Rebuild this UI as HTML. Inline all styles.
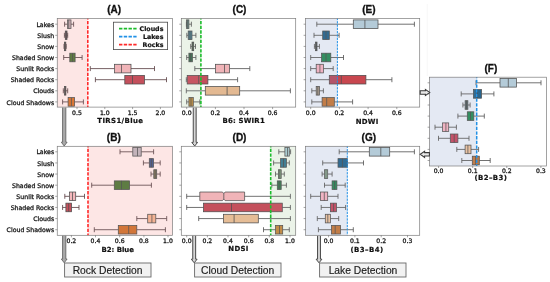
<!DOCTYPE html>
<html lang="en"><head><meta charset="utf-8"><title>Spectral thresholds boxplots</title>
<style>html,body{margin:0;padding:0;background:#fff}svg{display:block;filter:blur(0.35px)}</style></head>
<body>
<svg width="550" height="282" viewBox="0 0 550 282">
<rect width="550" height="282" fill="#fff"/>
<path d="M427.3 4V76" stroke="#f5f5f5" stroke-width="0.8" fill="none"/>
<path d="M62.55 107.4V142.2H61.3L64.2 146L67.1 142.2H65.85V107.4" fill="#a9a9a9" stroke="#5a5a5a" stroke-width="0.8" stroke-linejoin="miter"/>
<path d="M193.25 107.4V142.4H191.8L194.7 146L197.6 142.4H196.15V107.4" fill="#d6d6d6" stroke="#484848" stroke-width="1.0" stroke-linejoin="miter"/>
<path d="M62.55 235.6V259H61.3L64.2 262.8L67.1 259H65.85V235.6" fill="#a9a9a9" stroke="#5a5a5a" stroke-width="0.8" stroke-linejoin="miter"/>
<path d="M192.75 235.6V259.2H191.3L194.2 262.8L197.1 259.2H195.65V235.6" fill="#d6d6d6" stroke="#484848" stroke-width="1.0" stroke-linejoin="miter"/>
<path d="M317.55 235.6V259.2H316.1L319 262.8L321.9 259.2H320.45V235.6" fill="#d6d6d6" stroke="#484848" stroke-width="1.0" stroke-linejoin="miter"/>
<g id="panel-A">
<rect x="57.25" y="18.45" width="115.25" height="88.65" fill="#fff"/>
<rect x="57.25" y="18.45" width="30.55" height="88.65" fill="#fde6e5"/>
<path d="M64.6 24.2H67.5M71 24.2H73.6M64.6 21.71V26.69M73.6 21.71V26.69" stroke="#5e4448" stroke-width="0.85" fill="none"/>
<rect x="67.5" y="19.9" width="3.5" height="8.6" fill="#c9aab2" stroke="#4d4d4d" stroke-width="0.75"/>
<path d="M68.7 19.9V28.5" stroke="#4d4d4d" stroke-width="0.75"/>
<path d="M64.4 35.3H65.3M67 35.3H67.7M64.4 32.81V37.79M67.7 32.81V37.79" stroke="#5e4448" stroke-width="0.85" fill="none"/>
<rect x="65.3" y="31" width="1.7" height="8.6" fill="#6e4450" stroke="#4d4d4d" stroke-width="0.75"/>
<path d="M66.1 31V39.6" stroke="#4d4d4d" stroke-width="0.75"/>
<path d="M64 46.4H64.4M65.8 46.4H66.2M64 43.91V48.89M66.2 43.91V48.89" stroke="#5e4448" stroke-width="0.85" fill="none"/>
<rect x="64.4" y="42.1" width="1.4" height="8.6" fill="#7a4a4a" stroke="#4d4d4d" stroke-width="0.75"/>
<path d="M65 42.1V50.7" stroke="#4d4d4d" stroke-width="0.75"/>
<path d="M63.7 57.5H69.8M75.1 57.5H82.1M63.7 55.01V59.99M82.1 55.01V59.99" stroke="#5e4448" stroke-width="0.85" fill="none"/>
<rect x="69.8" y="53.2" width="5.3" height="8.6" fill="#58763a" stroke="#4d4d4d" stroke-width="0.75"/>
<path d="M72.5 53.2V61.8" stroke="#4d4d4d" stroke-width="0.75"/>
<path d="M90.3 68.6H114.6M131 68.6H154.5M90.3 66.11V71.09M154.5 66.11V71.09" stroke="#5e4448" stroke-width="0.85" fill="none"/>
<rect x="114.6" y="64.3" width="16.4" height="8.6" fill="#f0b4b8" stroke="#4d4d4d" stroke-width="0.75"/>
<path d="M121.5 64.3V72.9" stroke="#4d4d4d" stroke-width="0.75"/>
<path d="M95.4 79.7H124.8M144.5 79.7H166.5M95.4 77.21V82.19M166.5 77.21V82.19" stroke="#5e4448" stroke-width="0.85" fill="none"/>
<rect x="124.8" y="75.4" width="19.7" height="8.6" fill="#c4505c" stroke="#4d4d4d" stroke-width="0.75"/>
<path d="M132.5 75.4V84" stroke="#4d4d4d" stroke-width="0.75"/>
<path d="M63.3 90.8H64.6M65.9 90.8H67.7M63.3 88.31V93.29M67.7 88.31V93.29" stroke="#5e4448" stroke-width="0.85" fill="none"/>
<rect x="64.6" y="86.5" width="1.3" height="8.6" fill="#6e3e3e" stroke="#4d4d4d" stroke-width="0.75"/>
<path d="M65.2 86.5V95.1" stroke="#4d4d4d" stroke-width="0.75"/>
<path d="M62.6 101.9H68.1M74.6 101.9H83.4M62.6 99.41V104.39M83.4 99.41V104.39" stroke="#5e4448" stroke-width="0.85" fill="none"/>
<rect x="68.1" y="97.6" width="6.5" height="8.6" fill="#d8702c" stroke="#4d4d4d" stroke-width="0.75"/>
<path d="M71.4 97.6V106.2" stroke="#4d4d4d" stroke-width="0.75"/>
<rect x="57.25" y="18.45" width="30.55" height="88.65" fill="#fde6e5" opacity="0.05"/>
<path d="M87.8 18.45V107.1" stroke="#ff2a2a" stroke-width="1.6" stroke-dasharray="3.3 1.4" stroke-dashoffset="2.2" fill="none"/>
<rect x="57.25" y="18.45" width="115.25" height="88.65" fill="none" stroke="#7c7c7c" stroke-width="0.7"/>
<path d="M55.25 24.2H57.25M55.25 35.3H57.25M55.25 46.4H57.25M55.25 57.5H57.25M55.25 68.6H57.25M55.25 79.7H57.25M55.25 90.8H57.25M55.25 101.9H57.25M77 107.1V109.1M104.8 107.1V109.1M132.6 107.1V109.1M160.4 107.1V109.1" stroke="#666" stroke-width="0.6" fill="none"/>
<text x="77" y="114.7" font-size="6.15" text-anchor="middle" fill="#1c1c1c" stroke="#1c1c1c" stroke-width="0.3" font-family='"DejaVu Sans", "Liberation Sans", sans-serif'>0.5</text>
<text x="104.8" y="114.7" font-size="6.15" text-anchor="middle" fill="#1c1c1c" stroke="#1c1c1c" stroke-width="0.3" font-family='"DejaVu Sans", "Liberation Sans", sans-serif'>1.0</text>
<text x="132.6" y="114.7" font-size="6.15" text-anchor="middle" fill="#1c1c1c" stroke="#1c1c1c" stroke-width="0.3" font-family='"DejaVu Sans", "Liberation Sans", sans-serif'>1.5</text>
<text x="160.4" y="114.7" font-size="6.15" text-anchor="middle" fill="#1c1c1c" stroke="#1c1c1c" stroke-width="0.3" font-family='"DejaVu Sans", "Liberation Sans", sans-serif'>2.0</text>
<text x="54.15" y="26.85" font-size="6.22" text-anchor="end" fill="#1c1c1c" stroke="#1c1c1c" stroke-width="0.3" font-family='"DejaVu Sans", "Liberation Sans", sans-serif'>Lakes</text>
<text x="54.15" y="37.95" font-size="6.22" text-anchor="end" fill="#1c1c1c" stroke="#1c1c1c" stroke-width="0.3" font-family='"DejaVu Sans", "Liberation Sans", sans-serif'>Slush</text>
<text x="54.15" y="49.05" font-size="6.22" text-anchor="end" fill="#1c1c1c" stroke="#1c1c1c" stroke-width="0.3" font-family='"DejaVu Sans", "Liberation Sans", sans-serif'>Snow</text>
<text x="54.15" y="60.15" font-size="6.22" text-anchor="end" fill="#1c1c1c" stroke="#1c1c1c" stroke-width="0.3" font-family='"DejaVu Sans", "Liberation Sans", sans-serif'>Shaded Snow</text>
<text x="54.15" y="71.25" font-size="6.22" text-anchor="end" fill="#1c1c1c" stroke="#1c1c1c" stroke-width="0.3" font-family='"DejaVu Sans", "Liberation Sans", sans-serif'>Sunlit Rocks</text>
<text x="54.15" y="82.35" font-size="6.22" text-anchor="end" fill="#1c1c1c" stroke="#1c1c1c" stroke-width="0.3" font-family='"DejaVu Sans", "Liberation Sans", sans-serif'>Shaded Rocks</text>
<text x="54.15" y="93.45" font-size="6.22" text-anchor="end" fill="#1c1c1c" stroke="#1c1c1c" stroke-width="0.3" font-family='"DejaVu Sans", "Liberation Sans", sans-serif'>Clouds</text>
<text x="54.15" y="104.55" font-size="6.22" text-anchor="end" fill="#1c1c1c" stroke="#1c1c1c" stroke-width="0.3" font-family='"DejaVu Sans", "Liberation Sans", sans-serif'>Cloud Shadows</text>
<text x="120.3" y="122.95" font-size="6.95" letter-spacing="0.36" font-weight="bold" text-anchor="middle" fill="#111" stroke="#111" stroke-width="0.2" font-family='"DejaVu Sans", "Liberation Sans", sans-serif'>TIRS1/Blue</text>
<text x="114.2" y="12.75" font-size="10.0" font-weight="bold" text-anchor="middle" fill="#111" stroke="#111" stroke-width="0.3" font-family='"Liberation Sans", "DejaVu Sans", sans-serif'>(A)</text>
</g>
<g id="panel-B">
<rect x="57.25" y="146.3" width="115.25" height="89" fill="#fff"/>
<rect x="88" y="146.3" width="84.5" height="89" fill="#fde6e5"/>
<path d="M120 151.8H132.8M141.2 151.8H153.6M120 149.31V154.29M153.6 149.31V154.29" stroke="#5e4448" stroke-width="0.85" fill="none"/>
<rect x="132.8" y="147.5" width="8.4" height="8.6" fill="#c0b0b8" stroke="#4d4d4d" stroke-width="0.75"/>
<path d="M137.5 147.5V156.1" stroke="#4d4d4d" stroke-width="0.75"/>
<path d="M143.4 162.93H149.3M153.6 162.93H160.2M143.4 160.44V165.42M160.2 160.44V165.42" stroke="#5e4448" stroke-width="0.85" fill="none"/>
<rect x="149.3" y="158.63" width="4.3" height="8.6" fill="#4a5a8c" stroke="#4d4d4d" stroke-width="0.75"/>
<path d="M151.4 158.63V167.23" stroke="#4d4d4d" stroke-width="0.75"/>
<path d="M151 174.06H153.8M156.7 174.06H160.2M151 171.57V176.55M160.2 171.57V176.55" stroke="#5e4448" stroke-width="0.85" fill="none"/>
<rect x="153.8" y="169.76" width="2.9" height="8.6" fill="#8c7a5a" stroke="#4d4d4d" stroke-width="0.75"/>
<path d="M155.2 169.76V178.36" stroke="#4d4d4d" stroke-width="0.75"/>
<path d="M91.7 185.19H114.3M129.6 185.19H151.4M91.7 182.7V187.68M151.4 182.7V187.68" stroke="#5e4448" stroke-width="0.85" fill="none"/>
<rect x="114.3" y="180.89" width="15.3" height="8.6" fill="#56763a" stroke="#4d4d4d" stroke-width="0.75"/>
<path d="M121.5 180.89V189.49" stroke="#4d4d4d" stroke-width="0.75"/>
<path d="M64.8 196.32H69.4M75.7 196.32H84.5M64.8 193.83V198.81M84.5 193.83V198.81" stroke="#5e4448" stroke-width="0.85" fill="none"/>
<rect x="69.4" y="192.02" width="6.3" height="8.6" fill="#f4b8bc" stroke="#4d4d4d" stroke-width="0.75"/>
<path d="M72.5 192.02V200.62" stroke="#4d4d4d" stroke-width="0.75"/>
<path d="M62.6 207.45H65.9M71.6 207.45H79M62.6 204.96V209.94M79 204.96V209.94" stroke="#5e4448" stroke-width="0.85" fill="none"/>
<rect x="65.9" y="203.15" width="5.7" height="8.6" fill="#c4505c" stroke="#4d4d4d" stroke-width="0.75"/>
<path d="M68.7 203.15V211.75" stroke="#4d4d4d" stroke-width="0.75"/>
<path d="M136.8 218.58H147.7M155.8 218.58H166.7M136.8 216.09V221.07M166.7 216.09V221.07" stroke="#5e4448" stroke-width="0.85" fill="none"/>
<rect x="147.7" y="214.28" width="8.1" height="8.6" fill="#f4b090" stroke="#4d4d4d" stroke-width="0.75"/>
<path d="M151.9 214.28V222.88" stroke="#4d4d4d" stroke-width="0.75"/>
<path d="M94.3 229.71H118.3M136.8 229.71H165.4M94.3 227.22V232.2M165.4 227.22V232.2" stroke="#5e4448" stroke-width="0.85" fill="none"/>
<rect x="118.3" y="225.41" width="18.5" height="8.6" fill="#d07030" stroke="#4d4d4d" stroke-width="0.75"/>
<path d="M128.7 225.41V234.01" stroke="#4d4d4d" stroke-width="0.75"/>
<rect x="88" y="146.3" width="84.5" height="89" fill="#fde6e5" opacity="0.05"/>
<path d="M88 146.3V235.3" stroke="#ff2a2a" stroke-width="1.6" stroke-dasharray="3.3 1.4" stroke-dashoffset="2.2" fill="none"/>
<rect x="57.25" y="146.3" width="115.25" height="89" fill="none" stroke="#7c7c7c" stroke-width="0.7"/>
<path d="M55.25 151.8H57.25M55.25 162.93H57.25M55.25 174.06H57.25M55.25 185.19H57.25M55.25 196.32H57.25M55.25 207.45H57.25M55.25 218.58H57.25M55.25 229.71H57.25M71.4 235.3V237.3M95.5 235.3V237.3M119.7 235.3V237.3M143.9 235.3V237.3M168 235.3V237.3" stroke="#666" stroke-width="0.6" fill="none"/>
<text x="71.4" y="242.9" font-size="6.15" text-anchor="middle" fill="#1c1c1c" stroke="#1c1c1c" stroke-width="0.3" font-family='"DejaVu Sans", "Liberation Sans", sans-serif'>0.2</text>
<text x="95.5" y="242.9" font-size="6.15" text-anchor="middle" fill="#1c1c1c" stroke="#1c1c1c" stroke-width="0.3" font-family='"DejaVu Sans", "Liberation Sans", sans-serif'>0.4</text>
<text x="119.7" y="242.9" font-size="6.15" text-anchor="middle" fill="#1c1c1c" stroke="#1c1c1c" stroke-width="0.3" font-family='"DejaVu Sans", "Liberation Sans", sans-serif'>0.6</text>
<text x="143.9" y="242.9" font-size="6.15" text-anchor="middle" fill="#1c1c1c" stroke="#1c1c1c" stroke-width="0.3" font-family='"DejaVu Sans", "Liberation Sans", sans-serif'>0.8</text>
<text x="168" y="242.9" font-size="6.15" text-anchor="middle" fill="#1c1c1c" stroke="#1c1c1c" stroke-width="0.3" font-family='"DejaVu Sans", "Liberation Sans", sans-serif'>1.0</text>
<text x="54.15" y="154.45" font-size="6.22" text-anchor="end" fill="#1c1c1c" stroke="#1c1c1c" stroke-width="0.3" font-family='"DejaVu Sans", "Liberation Sans", sans-serif'>Lakes</text>
<text x="54.15" y="165.58" font-size="6.22" text-anchor="end" fill="#1c1c1c" stroke="#1c1c1c" stroke-width="0.3" font-family='"DejaVu Sans", "Liberation Sans", sans-serif'>Slush</text>
<text x="54.15" y="176.71" font-size="6.22" text-anchor="end" fill="#1c1c1c" stroke="#1c1c1c" stroke-width="0.3" font-family='"DejaVu Sans", "Liberation Sans", sans-serif'>Snow</text>
<text x="54.15" y="187.84" font-size="6.22" text-anchor="end" fill="#1c1c1c" stroke="#1c1c1c" stroke-width="0.3" font-family='"DejaVu Sans", "Liberation Sans", sans-serif'>Shaded Snow</text>
<text x="54.15" y="198.97" font-size="6.22" text-anchor="end" fill="#1c1c1c" stroke="#1c1c1c" stroke-width="0.3" font-family='"DejaVu Sans", "Liberation Sans", sans-serif'>Sunlit Rocks</text>
<text x="54.15" y="210.1" font-size="6.22" text-anchor="end" fill="#1c1c1c" stroke="#1c1c1c" stroke-width="0.3" font-family='"DejaVu Sans", "Liberation Sans", sans-serif'>Shaded Rocks</text>
<text x="54.15" y="221.23" font-size="6.22" text-anchor="end" fill="#1c1c1c" stroke="#1c1c1c" stroke-width="0.3" font-family='"DejaVu Sans", "Liberation Sans", sans-serif'>Clouds</text>
<text x="54.15" y="232.36" font-size="6.22" text-anchor="end" fill="#1c1c1c" stroke="#1c1c1c" stroke-width="0.3" font-family='"DejaVu Sans", "Liberation Sans", sans-serif'>Cloud Shadows</text>
<text x="117.7" y="251.55" font-size="6.95" letter-spacing="0" font-weight="bold" text-anchor="middle" fill="#111" stroke="#111" stroke-width="0.2" font-family='"DejaVu Sans", "Liberation Sans", sans-serif'>B2: Blue</text>
<text x="113.8" y="140.6" font-size="10.0" font-weight="bold" text-anchor="middle" fill="#111" stroke="#111" stroke-width="0.3" font-family='"Liberation Sans", "DejaVu Sans", sans-serif'>(B)</text>
</g>
<g id="panel-C">
<rect x="181.3" y="18.45" width="114.4" height="88.65" fill="#fff"/>
<rect x="181.3" y="18.45" width="19.6" height="88.65" fill="#ebf4e8"/>
<path d="M186.4 24.2H186.6M188.9 24.2H191.4M186.4 21.71V26.69M191.4 21.71V26.69" stroke="#585858" stroke-width="0.85" fill="none"/>
<rect x="186.6" y="19.9" width="2.3" height="8.6" fill="#6a9a90" stroke="#4d4d4d" stroke-width="0.75"/>
<path d="M187.7 19.9V28.5" stroke="#4d4d4d" stroke-width="0.75"/>
<path d="M186.8 35.3H188.2M192 35.3H195.9M186.8 32.81V37.79M195.9 32.81V37.79" stroke="#585858" stroke-width="0.85" fill="none"/>
<rect x="188.2" y="31" width="3.8" height="8.6" fill="#4a8090" stroke="#4d4d4d" stroke-width="0.75"/>
<path d="M190 31V39.6" stroke="#4d4d4d" stroke-width="0.75"/>
<path d="M190.7 46.4H192M193.7 46.4H195.5M190.7 43.91V48.89M195.5 43.91V48.89" stroke="#585858" stroke-width="0.85" fill="none"/>
<rect x="192" y="42.1" width="1.7" height="8.6" fill="#5a7a5a" stroke="#4d4d4d" stroke-width="0.75"/>
<path d="M192.8 42.1V50.7" stroke="#4d4d4d" stroke-width="0.75"/>
<path d="M186.7 57.5H188.9M192.4 57.5H195.9M186.7 55.01V59.99M195.9 55.01V59.99" stroke="#585858" stroke-width="0.85" fill="none"/>
<rect x="188.9" y="53.2" width="3.5" height="8.6" fill="#3a6e4e" stroke="#4d4d4d" stroke-width="0.75"/>
<path d="M190.6 53.2V61.8" stroke="#4d4d4d" stroke-width="0.75"/>
<path d="M194.8 68.6H215.5M229.5 68.6H249.8M194.8 66.11V71.09M249.8 66.11V71.09" stroke="#585858" stroke-width="0.85" fill="none"/>
<rect x="215.5" y="64.3" width="14" height="8.6" fill="#f0b4b8" stroke="#4d4d4d" stroke-width="0.75"/>
<path d="M224.5 64.3V72.9" stroke="#4d4d4d" stroke-width="0.75"/>
<path d="M186.3 79.7H187.2M207.9 79.7H237.6M186.3 77.21V82.19M237.6 77.21V82.19" stroke="#585858" stroke-width="0.85" fill="none"/>
<rect x="187.2" y="75.4" width="20.7" height="8.6" fill="#c4505c" stroke="#4d4d4d" stroke-width="0.75"/>
<path d="M198.7 75.4V84" stroke="#4d4d4d" stroke-width="0.75"/>
<path d="M186.3 90.8H205.3M239.7 90.8H290.4M186.3 88.31V93.29M290.4 88.31V93.29" stroke="#585858" stroke-width="0.85" fill="none"/>
<rect x="205.3" y="86.5" width="34.4" height="8.6" fill="#e3b992" stroke="#4d4d4d" stroke-width="0.75"/>
<path d="M227.1 86.5V95.1" stroke="#4d4d4d" stroke-width="0.75"/>
<path d="M186.7 101.9H188.9M193.3 101.9H199.8M186.7 99.41V104.39M199.8 99.41V104.39" stroke="#585858" stroke-width="0.85" fill="none"/>
<rect x="188.9" y="97.6" width="4.4" height="8.6" fill="#b88a40" stroke="#4d4d4d" stroke-width="0.75"/>
<path d="M191 97.6V106.2" stroke="#4d4d4d" stroke-width="0.75"/>
<rect x="181.3" y="18.45" width="19.6" height="88.65" fill="#ebf4e8" opacity="0.05"/>
<path d="M200.9 18.45V107.1" stroke="#1cbc2c" stroke-width="1.6" stroke-dasharray="3.3 1.4" stroke-dashoffset="2.2" fill="none"/>
<rect x="181.3" y="18.45" width="114.4" height="88.65" fill="none" stroke="#7c7c7c" stroke-width="0.7"/>
<path d="M179.3 24.2H181.3M179.3 35.3H181.3M179.3 46.4H181.3M179.3 57.5H181.3M179.3 68.6H181.3M179.3 79.7H181.3M179.3 90.8H181.3M179.3 101.9H181.3M186.7 107.1V109.1M215.4 107.1V109.1M244 107.1V109.1M272.6 107.1V109.1" stroke="#666" stroke-width="0.6" fill="none"/>
<text x="186.7" y="114.7" font-size="6.15" text-anchor="middle" fill="#1c1c1c" stroke="#1c1c1c" stroke-width="0.3" font-family='"DejaVu Sans", "Liberation Sans", sans-serif'>0.0</text>
<text x="215.4" y="114.7" font-size="6.15" text-anchor="middle" fill="#1c1c1c" stroke="#1c1c1c" stroke-width="0.3" font-family='"DejaVu Sans", "Liberation Sans", sans-serif'>0.2</text>
<text x="244" y="114.7" font-size="6.15" text-anchor="middle" fill="#1c1c1c" stroke="#1c1c1c" stroke-width="0.3" font-family='"DejaVu Sans", "Liberation Sans", sans-serif'>0.4</text>
<text x="272.6" y="114.7" font-size="6.15" text-anchor="middle" fill="#1c1c1c" stroke="#1c1c1c" stroke-width="0.3" font-family='"DejaVu Sans", "Liberation Sans", sans-serif'>0.6</text>
<text x="243.7" y="122.95" font-size="6.95" letter-spacing="0.2" font-weight="bold" text-anchor="middle" fill="#111" stroke="#111" stroke-width="0.2" font-family='"DejaVu Sans", "Liberation Sans", sans-serif'>B6: SWIR1</text>
<text x="239.5" y="12.75" font-size="10.0" font-weight="bold" text-anchor="middle" fill="#111" stroke="#111" stroke-width="0.3" font-family='"Liberation Sans", "DejaVu Sans", sans-serif'>(C)</text>
</g>
<g id="panel-D">
<rect x="181.3" y="146.3" width="114.4" height="89" fill="#fff"/>
<rect x="270.7" y="146.3" width="25" height="89" fill="#ebf4e8"/>
<path d="M278.8 151.8H284.9M289.3 151.8H290.6M278.8 149.31V154.29M290.6 149.31V154.29" stroke="#585858" stroke-width="0.85" fill="none"/>
<rect x="284.9" y="147.5" width="4.4" height="8.6" fill="#a8ccd0" stroke="#4d4d4d" stroke-width="0.75"/>
<path d="M287.5 147.5V156.1" stroke="#4d4d4d" stroke-width="0.75"/>
<path d="M273.6 162.93H280.6M286.4 162.93H289.3M273.6 160.44V165.42M289.3 160.44V165.42" stroke="#585858" stroke-width="0.85" fill="none"/>
<rect x="280.6" y="158.63" width="5.8" height="8.6" fill="#3a7a90" stroke="#4d4d4d" stroke-width="0.75"/>
<path d="M283.5 158.63V167.23" stroke="#4d4d4d" stroke-width="0.75"/>
<path d="M275.5 174.06H278.4M281.2 174.06H284.3M275.5 171.57V176.55M284.3 171.57V176.55" stroke="#585858" stroke-width="0.85" fill="none"/>
<rect x="278.4" y="169.76" width="2.8" height="8.6" fill="#86a684" stroke="#4d4d4d" stroke-width="0.75"/>
<path d="M279.8 169.76V178.36" stroke="#4d4d4d" stroke-width="0.75"/>
<path d="M271.8 185.19H277.3M281.2 185.19H286.4M271.8 182.7V187.68M286.4 182.7V187.68" stroke="#585858" stroke-width="0.85" fill="none"/>
<rect x="277.3" y="180.89" width="3.9" height="8.6" fill="#3a7a50" stroke="#4d4d4d" stroke-width="0.75"/>
<path d="M279.2 180.89V189.49" stroke="#4d4d4d" stroke-width="0.75"/>
<path d="M186.7 196.32H199.8M244.6 196.32H290.4M186.7 193.83V198.81M290.4 193.83V198.81" stroke="#585858" stroke-width="0.85" fill="none"/>
<path d="M199.8 192.02H222.5L223.8 193.62L225.1 192.02H244.6V200.62H225.1L223.8 199.02L222.5 200.62H199.8Z" fill="#f0b4b8" stroke="#4d4d4d" stroke-width="0.75" stroke-linejoin="round"/>
<path d="M223.8 193.62V199.02" stroke="#4d4d4d" stroke-width="0.75"/>
<path d="M186.7 207.45H203.5M282.3 207.45H290.4M186.7 204.96V209.94M290.4 204.96V209.94" stroke="#585858" stroke-width="0.85" fill="none"/>
<rect x="203.5" y="203.15" width="78.8" height="8.6" fill="#c4505c" stroke="#4d4d4d" stroke-width="0.75"/>
<path d="M231.5 203.15V211.75" stroke="#4d4d4d" stroke-width="0.75"/>
<path d="M198.7 218.58H223.4M258.3 218.58H290.4M198.7 216.09V221.07M290.4 216.09V221.07" stroke="#585858" stroke-width="0.85" fill="none"/>
<rect x="223.4" y="214.28" width="34.9" height="8.6" fill="#e6bd96" stroke="#4d4d4d" stroke-width="0.75"/>
<path d="M234.1 214.28V222.88" stroke="#4d4d4d" stroke-width="0.75"/>
<path d="M263.5 229.71H275.5M282.7 229.71H289.3M263.5 227.22V232.2M289.3 227.22V232.2" stroke="#585858" stroke-width="0.85" fill="none"/>
<rect x="275.5" y="225.41" width="7.2" height="8.6" fill="#c08840" stroke="#4d4d4d" stroke-width="0.75"/>
<path d="M279.5 225.41V234.01" stroke="#4d4d4d" stroke-width="0.75"/>
<rect x="270.7" y="146.3" width="25" height="89" fill="#ebf4e8" opacity="0.05"/>
<path d="M270.7 146.3V235.3" stroke="#1cbc2c" stroke-width="1.6" stroke-dasharray="3.3 1.4" stroke-dashoffset="2.2" fill="none"/>
<rect x="181.3" y="146.3" width="114.4" height="89" fill="none" stroke="#7c7c7c" stroke-width="0.7"/>
<path d="M179.3 151.8H181.3M179.3 162.93H181.3M179.3 174.06H181.3M179.3 185.19H181.3M179.3 196.32H181.3M179.3 207.45H181.3M179.3 218.58H181.3M179.3 229.71H181.3M186.7 235.3V237.3M207.4 235.3V237.3M228 235.3V237.3M248.7 235.3V237.3M269.3 235.3V237.3M290 235.3V237.3" stroke="#666" stroke-width="0.6" fill="none"/>
<text x="186.7" y="242.9" font-size="6.15" text-anchor="middle" fill="#1c1c1c" stroke="#1c1c1c" stroke-width="0.3" font-family='"DejaVu Sans", "Liberation Sans", sans-serif'>0.0</text>
<text x="207.4" y="242.9" font-size="6.15" text-anchor="middle" fill="#1c1c1c" stroke="#1c1c1c" stroke-width="0.3" font-family='"DejaVu Sans", "Liberation Sans", sans-serif'>0.2</text>
<text x="228" y="242.9" font-size="6.15" text-anchor="middle" fill="#1c1c1c" stroke="#1c1c1c" stroke-width="0.3" font-family='"DejaVu Sans", "Liberation Sans", sans-serif'>0.4</text>
<text x="248.7" y="242.9" font-size="6.15" text-anchor="middle" fill="#1c1c1c" stroke="#1c1c1c" stroke-width="0.3" font-family='"DejaVu Sans", "Liberation Sans", sans-serif'>0.6</text>
<text x="269.3" y="242.9" font-size="6.15" text-anchor="middle" fill="#1c1c1c" stroke="#1c1c1c" stroke-width="0.3" font-family='"DejaVu Sans", "Liberation Sans", sans-serif'>0.8</text>
<text x="290" y="242.9" font-size="6.15" text-anchor="middle" fill="#1c1c1c" stroke="#1c1c1c" stroke-width="0.3" font-family='"DejaVu Sans", "Liberation Sans", sans-serif'>1.0</text>
<text x="238.5" y="251.15" font-size="6.95" letter-spacing="0.3" font-weight="bold" text-anchor="middle" fill="#111" stroke="#111" stroke-width="0.2" font-family='"DejaVu Sans", "Liberation Sans", sans-serif'>NDSI</text>
<text x="239.5" y="140.6" font-size="10.0" font-weight="bold" text-anchor="middle" fill="#111" stroke="#111" stroke-width="0.3" font-family='"Liberation Sans", "DejaVu Sans", sans-serif'>(D)</text>
</g>
<g id="panel-E">
<rect x="305.6" y="18.45" width="114.1" height="88.65" fill="#fff"/>
<rect x="305.6" y="18.45" width="31.8" height="88.65" fill="#e4e9f4"/>
<path d="M316.8 24.2H353.3M378 24.2H414.4M316.8 21.71V26.69M414.4 21.71V26.69" stroke="#585858" stroke-width="0.85" fill="none"/>
<rect x="353.3" y="19.9" width="24.7" height="8.6" fill="#b4cbd8" stroke="#4d4d4d" stroke-width="0.75"/>
<path d="M364.9 19.9V28.5" stroke="#4d4d4d" stroke-width="0.75"/>
<path d="M314 35.3H322.7M329.3 35.3H339.1M314 32.81V37.79M339.1 32.81V37.79" stroke="#585858" stroke-width="0.85" fill="none"/>
<rect x="322.7" y="31" width="6.6" height="8.6" fill="#27658e" stroke="#4d4d4d" stroke-width="0.75"/>
<path d="M326 31V39.6" stroke="#4d4d4d" stroke-width="0.75"/>
<path d="M314.4 46.4H315.6M317 46.4H319.4M314.4 43.91V48.89M319.4 43.91V48.89" stroke="#585858" stroke-width="0.85" fill="none"/>
<rect x="315.6" y="42.1" width="1.4" height="8.6" fill="#56666e" stroke="#4d4d4d" stroke-width="0.75"/>
<path d="M316.3 42.1V50.7" stroke="#4d4d4d" stroke-width="0.75"/>
<path d="M310.7 57.5H321.6M330.8 57.5H343.5M310.7 55.01V59.99M343.5 55.01V59.99" stroke="#585858" stroke-width="0.85" fill="none"/>
<rect x="321.6" y="53.2" width="9.2" height="8.6" fill="#2a8a5a" stroke="#4d4d4d" stroke-width="0.75"/>
<path d="M326 53.2V61.8" stroke="#4d4d4d" stroke-width="0.75"/>
<path d="M310.7 68.6H316.2M323.4 68.6H333.2M310.7 66.11V71.09M333.2 66.11V71.09" stroke="#585858" stroke-width="0.85" fill="none"/>
<rect x="316.2" y="64.3" width="7.2" height="8.6" fill="#f0b0c0" stroke="#4d4d4d" stroke-width="0.75"/>
<path d="M319.9 64.3V72.9" stroke="#4d4d4d" stroke-width="0.75"/>
<path d="M310.7 79.7H329.3M365.9 79.7H391.9M310.7 77.21V82.19M391.9 77.21V82.19" stroke="#585858" stroke-width="0.85" fill="none"/>
<rect x="329.3" y="75.4" width="36.6" height="8.6" fill="#c8474f" stroke="#4d4d4d" stroke-width="0.75"/>
<path d="M341.3 75.4V84" stroke="#4d4d4d" stroke-width="0.75"/>
<path d="M311.8 90.8H316.2M319.5 90.8H323.4M311.8 88.31V93.29M323.4 88.31V93.29" stroke="#585858" stroke-width="0.85" fill="none"/>
<rect x="316.2" y="86.5" width="3.3" height="8.6" fill="#b0a090" stroke="#4d4d4d" stroke-width="0.75"/>
<path d="M317.8 86.5V95.1" stroke="#4d4d4d" stroke-width="0.75"/>
<path d="M311.8 101.9H322.1M334.3 101.9H352.6M311.8 99.41V104.39M352.6 99.41V104.39" stroke="#585858" stroke-width="0.85" fill="none"/>
<rect x="322.1" y="97.6" width="12.2" height="8.6" fill="#c07840" stroke="#4d4d4d" stroke-width="0.75"/>
<path d="M326.7 97.6V106.2" stroke="#4d4d4d" stroke-width="0.75"/>
<rect x="329.7" y="75.7" width="7.7" height="8" fill="#5868b8" opacity="0.2"/>
<rect x="305.6" y="18.45" width="31.8" height="88.65" fill="#e4e9f4" opacity="0.05"/>
<path d="M337.4 18.45V107.1" stroke="#2191e6" stroke-width="0.99" stroke-dasharray="2.3 1.0" stroke-dashoffset="0.6" fill="none"/>
<rect x="305.6" y="18.45" width="114.1" height="88.65" fill="none" stroke="#7c7c7c" stroke-width="0.7"/>
<path d="M303.6 24.2H305.6M303.6 35.3H305.6M303.6 46.4H305.6M303.6 57.5H305.6M303.6 68.6H305.6M303.6 79.7H305.6M303.6 90.8H305.6M303.6 101.9H305.6M310.7 107.1V109.1M339.4 107.1V109.1M368.1 107.1V109.1M396.8 107.1V109.1" stroke="#666" stroke-width="0.6" fill="none"/>
<text x="310.7" y="114.7" font-size="6.15" text-anchor="middle" fill="#1c1c1c" stroke="#1c1c1c" stroke-width="0.3" font-family='"DejaVu Sans", "Liberation Sans", sans-serif'>0.0</text>
<text x="339.4" y="114.7" font-size="6.15" text-anchor="middle" fill="#1c1c1c" stroke="#1c1c1c" stroke-width="0.3" font-family='"DejaVu Sans", "Liberation Sans", sans-serif'>0.2</text>
<text x="368.1" y="114.7" font-size="6.15" text-anchor="middle" fill="#1c1c1c" stroke="#1c1c1c" stroke-width="0.3" font-family='"DejaVu Sans", "Liberation Sans", sans-serif'>0.4</text>
<text x="396.8" y="114.7" font-size="6.15" text-anchor="middle" fill="#1c1c1c" stroke="#1c1c1c" stroke-width="0.3" font-family='"DejaVu Sans", "Liberation Sans", sans-serif'>0.6</text>
<text x="367.2" y="123.65" font-size="6.95" letter-spacing="0.3" font-weight="bold" text-anchor="middle" fill="#111" stroke="#111" stroke-width="0.2" font-family='"DejaVu Sans", "Liberation Sans", sans-serif'>NDWI</text>
<text x="368.8" y="12.75" font-size="10.0" font-weight="bold" text-anchor="middle" fill="#111" stroke="#111" stroke-width="0.3" font-family='"Liberation Sans", "DejaVu Sans", sans-serif'>(E)</text>
</g>
<g id="panel-G">
<rect x="305.6" y="146.3" width="114.1" height="89" fill="#fff"/>
<rect x="305.6" y="146.3" width="41.7" height="89" fill="#e4e9f4"/>
<path d="M339.2 151.8H369.3M389.7 151.8H414.4M339.2 149.31V154.29M414.4 149.31V154.29" stroke="#585858" stroke-width="0.85" fill="none"/>
<rect x="369.3" y="147.5" width="20.4" height="8.6" fill="#b4cbd8" stroke="#4d4d4d" stroke-width="0.75"/>
<path d="M380.8 147.5V156.1" stroke="#4d4d4d" stroke-width="0.75"/>
<path d="M322.7 162.93H338M347.4 162.93H363.5M322.7 160.44V165.42M363.5 160.44V165.42" stroke="#585858" stroke-width="0.85" fill="none"/>
<rect x="338" y="158.63" width="9.4" height="8.6" fill="#27658e" stroke="#4d4d4d" stroke-width="0.75"/>
<path d="M342.4 158.63V167.23" stroke="#4d4d4d" stroke-width="0.75"/>
<path d="M322.1 174.06H324.5M327.7 174.06H332.1M322.1 171.57V176.55M332.1 171.57V176.55" stroke="#585858" stroke-width="0.85" fill="none"/>
<rect x="324.5" y="169.76" width="3.2" height="8.6" fill="#9cbfa6" stroke="#4d4d4d" stroke-width="0.75"/>
<path d="M326 169.76V178.36" stroke="#4d4d4d" stroke-width="0.75"/>
<path d="M324.5 185.19H332.1M336.9 185.19H345.2M324.5 182.7V187.68M345.2 182.7V187.68" stroke="#585858" stroke-width="0.85" fill="none"/>
<rect x="332.1" y="180.89" width="4.8" height="8.6" fill="#2a8a5a" stroke="#4d4d4d" stroke-width="0.75"/>
<path d="M334.6 180.89V189.49" stroke="#4d4d4d" stroke-width="0.75"/>
<path d="M310.7 196.32H320.5M327.7 196.32H338M310.7 193.83V198.81M338 193.83V198.81" stroke="#585858" stroke-width="0.85" fill="none"/>
<rect x="320.5" y="192.02" width="7.2" height="8.6" fill="#f0b0c0" stroke="#4d4d4d" stroke-width="0.75"/>
<path d="M324.3 192.02V200.62" stroke="#4d4d4d" stroke-width="0.75"/>
<path d="M321.2 207.45H330.4M336.5 207.45H345.6M321.2 204.96V209.94M345.6 204.96V209.94" stroke="#585858" stroke-width="0.85" fill="none"/>
<rect x="330.4" y="203.15" width="6.1" height="8.6" fill="#c24a62" stroke="#4d4d4d" stroke-width="0.75"/>
<path d="M333.6 203.15V211.75" stroke="#4d4d4d" stroke-width="0.75"/>
<path d="M317.3 218.58H325.3M330.4 218.58H338.7M317.3 216.09V221.07M338.7 216.09V221.07" stroke="#585858" stroke-width="0.85" fill="none"/>
<rect x="325.3" y="214.28" width="5.1" height="8.6" fill="#e8c0a0" stroke="#4d4d4d" stroke-width="0.75"/>
<path d="M327.8 214.28V222.88" stroke="#4d4d4d" stroke-width="0.75"/>
<path d="M318.4 229.71H331.5M340.6 229.71H353.3M318.4 227.22V232.2M353.3 227.22V232.2" stroke="#585858" stroke-width="0.85" fill="none"/>
<rect x="331.5" y="225.41" width="9.1" height="8.6" fill="#c07840" stroke="#4d4d4d" stroke-width="0.75"/>
<path d="M335.2 225.41V234.01" stroke="#4d4d4d" stroke-width="0.75"/>
<rect x="305.6" y="146.3" width="41.7" height="89" fill="#e4e9f4" opacity="0.05"/>
<path d="M347.3 146.3V235.3" stroke="#2191e6" stroke-width="0.99" stroke-dasharray="2.3 1.0" stroke-dashoffset="0.6" fill="none"/>
<rect x="305.6" y="146.3" width="114.1" height="89" fill="none" stroke="#7c7c7c" stroke-width="0.7"/>
<path d="M303.6 151.8H305.6M303.6 162.93H305.6M303.6 174.06H305.6M303.6 185.19H305.6M303.6 196.32H305.6M303.6 207.45H305.6M303.6 218.58H305.6M303.6 229.71H305.6M328.6 235.3V237.3M354.9 235.3V237.3M381.2 235.3V237.3M407.5 235.3V237.3" stroke="#666" stroke-width="0.6" fill="none"/>
<text x="328.6" y="242.9" font-size="6.15" text-anchor="middle" fill="#1c1c1c" stroke="#1c1c1c" stroke-width="0.3" font-family='"DejaVu Sans", "Liberation Sans", sans-serif'>0.0</text>
<text x="354.9" y="242.9" font-size="6.15" text-anchor="middle" fill="#1c1c1c" stroke="#1c1c1c" stroke-width="0.3" font-family='"DejaVu Sans", "Liberation Sans", sans-serif'>0.1</text>
<text x="381.2" y="242.9" font-size="6.15" text-anchor="middle" fill="#1c1c1c" stroke="#1c1c1c" stroke-width="0.3" font-family='"DejaVu Sans", "Liberation Sans", sans-serif'>0.2</text>
<text x="407.5" y="242.9" font-size="6.15" text-anchor="middle" fill="#1c1c1c" stroke="#1c1c1c" stroke-width="0.3" font-family='"DejaVu Sans", "Liberation Sans", sans-serif'>0.3</text>
<text x="367" y="251.5" font-size="6.95" letter-spacing="0.42" font-weight="bold" text-anchor="middle" fill="#111" stroke="#111" stroke-width="0.2" font-family='"DejaVu Sans", "Liberation Sans", sans-serif'>(B3–B4)</text>
<text x="368.8" y="140.6" font-size="10.0" font-weight="bold" text-anchor="middle" fill="#111" stroke="#111" stroke-width="0.3" font-family='"Liberation Sans", "DejaVu Sans", sans-serif'>(G)</text>
</g>
<g id="panel-F">
<rect x="429.6" y="77.2" width="117" height="88.8" fill="#fff"/>
<rect x="429.6" y="77.2" width="47.1" height="88.8" fill="#e4e9f4"/>
<path d="M476 82.8H500M516.4 82.8H541M476 80.31V85.29M541 80.31V85.29" stroke="#585858" stroke-width="0.85" fill="none"/>
<rect x="500" y="78.5" width="16.4" height="8.6" fill="#b4cbd8" stroke="#4d4d4d" stroke-width="0.75"/>
<path d="M508.3 78.5V87.1" stroke="#4d4d4d" stroke-width="0.75"/>
<path d="M461.2 93.9H473.4M481.5 93.9H493.9M461.2 91.41V96.39M493.9 91.41V96.39" stroke="#585858" stroke-width="0.85" fill="none"/>
<rect x="473.4" y="89.6" width="8.1" height="8.6" fill="#27658e" stroke="#4d4d4d" stroke-width="0.75"/>
<path d="M477.5 89.6V98.2" stroke="#4d4d4d" stroke-width="0.75"/>
<path d="M462.9 105H465.1M467.9 105H470.1M462.9 102.51V107.49M470.1 102.51V107.49" stroke="#585858" stroke-width="0.85" fill="none"/>
<rect x="465.1" y="100.7" width="2.8" height="8.6" fill="#5a7078" stroke="#4d4d4d" stroke-width="0.75"/>
<path d="M466.5 100.7V109.3" stroke="#4d4d4d" stroke-width="0.75"/>
<path d="M457.9 116.1H467.3M473.8 116.1H484.3M457.9 113.61V118.59M484.3 113.61V118.59" stroke="#585858" stroke-width="0.85" fill="none"/>
<rect x="467.3" y="111.8" width="6.5" height="8.6" fill="#2a8a5a" stroke="#4d4d4d" stroke-width="0.75"/>
<path d="M470.5 111.8V120.4" stroke="#4d4d4d" stroke-width="0.75"/>
<path d="M435 127.2H442.6M448.7 127.2H456.4M435 124.71V129.69M456.4 124.71V129.69" stroke="#585858" stroke-width="0.85" fill="none"/>
<rect x="442.6" y="122.9" width="6.1" height="8.6" fill="#f0b0c0" stroke="#4d4d4d" stroke-width="0.75"/>
<path d="M445.9 122.9V131.5" stroke="#4d4d4d" stroke-width="0.75"/>
<path d="M438.5 138.3H450.3M457.9 138.3H469M438.5 135.81V140.79M469 135.81V140.79" stroke="#585858" stroke-width="0.85" fill="none"/>
<rect x="450.3" y="134" width="7.6" height="8.6" fill="#c24a62" stroke="#4d4d4d" stroke-width="0.75"/>
<path d="M454.2 134V142.6" stroke="#4d4d4d" stroke-width="0.75"/>
<path d="M456.8 149.4H465.1M471 149.4H478.6M456.8 146.91V151.89M478.6 146.91V151.89" stroke="#585858" stroke-width="0.85" fill="none"/>
<rect x="465.1" y="145.1" width="5.9" height="8.6" fill="#e8c0a0" stroke="#4d4d4d" stroke-width="0.75"/>
<path d="M467.9 145.1V153.7" stroke="#4d4d4d" stroke-width="0.75"/>
<path d="M461.8 160.5H472.3M479.3 160.5H490.2M461.8 158.01V162.99M490.2 158.01V162.99" stroke="#585858" stroke-width="0.85" fill="none"/>
<rect x="472.3" y="156.2" width="7" height="8.6" fill="#c07840" stroke="#4d4d4d" stroke-width="0.75"/>
<path d="M475.6 156.2V164.8" stroke="#4d4d4d" stroke-width="0.75"/>
<rect x="429.6" y="77.2" width="47.1" height="88.8" fill="#e4e9f4" opacity="0.05"/>
<path d="M476.7 77.2V166" stroke="#2191e6" stroke-width="1.5" stroke-dasharray="3.3 1.4" stroke-dashoffset="2.2" fill="none"/>
<rect x="429.6" y="77.2" width="117" height="88.8" fill="none" stroke="#7c7c7c" stroke-width="0.7"/>
<path d="M427.6 82.8H429.6M427.6 93.9H429.6M427.6 105H429.6M427.6 116.1H429.6M427.6 127.2H429.6M427.6 138.3H429.6M427.6 149.4H429.6M427.6 160.5H429.6M438.6 166V168M472.7 166V168M506.8 166V168M540.9 166V168" stroke="#666" stroke-width="0.6" fill="none"/>
<text x="438.6" y="173.3" font-size="6.15" text-anchor="middle" fill="#1c1c1c" stroke="#1c1c1c" stroke-width="0.3" font-family='"DejaVu Sans", "Liberation Sans", sans-serif'>0.0</text>
<text x="472.7" y="173.3" font-size="6.15" text-anchor="middle" fill="#1c1c1c" stroke="#1c1c1c" stroke-width="0.3" font-family='"DejaVu Sans", "Liberation Sans", sans-serif'>0.1</text>
<text x="506.8" y="173.3" font-size="6.15" text-anchor="middle" fill="#1c1c1c" stroke="#1c1c1c" stroke-width="0.3" font-family='"DejaVu Sans", "Liberation Sans", sans-serif'>0.2</text>
<text x="540.9" y="173.3" font-size="6.15" text-anchor="middle" fill="#1c1c1c" stroke="#1c1c1c" stroke-width="0.3" font-family='"DejaVu Sans", "Liberation Sans", sans-serif'>0.3</text>
<text x="490.9" y="180.3" font-size="6.95" letter-spacing="0.42" font-weight="bold" text-anchor="middle" fill="#111" stroke="#111" stroke-width="0.2" font-family='"DejaVu Sans", "Liberation Sans", sans-serif'>(B2–B3)</text>
<text x="490.9" y="71.5" font-size="10.0" font-weight="bold" text-anchor="middle" fill="#111" stroke="#111" stroke-width="0.3" font-family='"Liberation Sans", "DejaVu Sans", sans-serif'>(F)</text>
</g>
<path d="M420.2 90.8H425.4V89.4L429.8 92.5L425.4 95.6V94.2H420.2Z" fill="#e8e8e8" stroke="#3a3a3a" stroke-width="1.05" stroke-linejoin="miter"/>
<path d="M429.4 152.6H424.6V151.2L420.2 154.3L424.6 157.4V156H429.4Z" fill="#e8e8e8" stroke="#3a3a3a" stroke-width="1.05" stroke-linejoin="miter"/>
<g id="legend">
<rect x="113.4" y="22.2" width="54.2" height="27.4" fill="#fff" stroke="#4a4a4a" stroke-width="0.8"/>
<path d="M119 28.6H136.6" stroke="#1cbc2c" stroke-width="1.7" stroke-dasharray="3.4 1.35" fill="none"/>
<text x="163.4" y="30.9" font-size="6.3" font-weight="bold" text-anchor="end" fill="#111" stroke="#111" stroke-width="0.2" font-family='"DejaVu Sans", "Liberation Sans", sans-serif'>Clouds</text>
<path d="M119 36.6H136.6" stroke="#2191e6" stroke-width="1.7" stroke-dasharray="3.4 1.35" fill="none"/>
<text x="163.4" y="38.9" font-size="6.3" font-weight="bold" text-anchor="end" fill="#111" stroke="#111" stroke-width="0.2" font-family='"DejaVu Sans", "Liberation Sans", sans-serif'>Lakes</text>
<path d="M119 44.6H136.6" stroke="#ff2a2a" stroke-width="1.7" stroke-dasharray="3.4 1.35" fill="none"/>
<text x="163.4" y="46.9" font-size="6.3" font-weight="bold" text-anchor="end" fill="#111" stroke="#111" stroke-width="0.2" font-family='"DejaVu Sans", "Liberation Sans", sans-serif'>Rocks</text>
</g>
<rect x="64.6" y="263" width="86.4" height="14" fill="#f2f2f2" stroke="#686868" stroke-width="0.9"/>
<text x="107.6" y="274" font-size="10.3" text-anchor="middle" fill="#1a1a1a" stroke="#1a1a1a" stroke-width="0.15" font-family='"Liberation Sans", "DejaVu Sans", sans-serif'>Rock Detection</text>
<rect x="194.6" y="263" width="86.4" height="14" fill="#f2f2f2" stroke="#686868" stroke-width="0.9"/>
<text x="237.7" y="274" font-size="10.3" text-anchor="middle" fill="#1a1a1a" stroke="#1a1a1a" stroke-width="0.15" font-family='"Liberation Sans", "DejaVu Sans", sans-serif'>Cloud Detection</text>
<rect x="319.6" y="263" width="86.4" height="14" fill="#f2f2f2" stroke="#686868" stroke-width="0.9"/>
<text x="363.0" y="274" font-size="10.3" text-anchor="middle" fill="#1a1a1a" stroke="#1a1a1a" stroke-width="0.15" font-family='"Liberation Sans", "DejaVu Sans", sans-serif'>Lake Detection</text>
</svg>
</body></html>
